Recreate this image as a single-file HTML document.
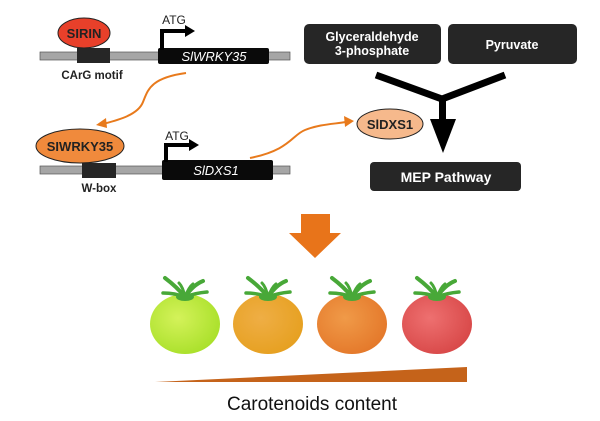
<!DOCTYPE html>
<html><head><meta charset="utf-8"><style>
html,body{margin:0;padding:0;background:#fff;width:600px;height:421px;overflow:hidden}
svg text{font-family:"Liberation Sans",Arial,sans-serif}
</style></head><body>
<svg width="600" height="421" viewBox="0 0 600 421" xmlns="http://www.w3.org/2000/svg">
<defs>
<radialGradient id="g1" cx="40%" cy="40%" r="65%"><stop offset="0" stop-color="#d4f25a"/><stop offset="1" stop-color="#a9e02a"/></radialGradient>
<radialGradient id="g2" cx="40%" cy="40%" r="65%"><stop offset="0" stop-color="#efae45"/><stop offset="1" stop-color="#e6a020"/></radialGradient>
<radialGradient id="g3" cx="40%" cy="40%" r="65%"><stop offset="0" stop-color="#f09a48"/><stop offset="1" stop-color="#e4782a"/></radialGradient>
<radialGradient id="g4" cx="40%" cy="40%" r="65%"><stop offset="0" stop-color="#ee7070"/><stop offset="1" stop-color="#d84848"/></radialGradient>
<g id="calyx" fill="none" stroke="#48a838" stroke-linecap="round">
<path d="M0 4 Q-8 -6 -20 -15" stroke-width="4"/>
<path d="M0 4 Q8 -8 18 -12" stroke-width="4"/>
<path d="M0 4 Q-10 0 -22 0" stroke-width="3.5"/>
<path d="M0 4 Q10 0 22 -1" stroke-width="3.5"/>
<path d="M0 4 Q-2 -6 -6 -10" stroke-width="3"/>
<path d="M0 4 Q4 -6 8 -9" stroke-width="3"/>
<ellipse cx="0" cy="4" rx="9" ry="4" fill="#48a838" stroke="none"/>
</g>
</defs>
<!-- top gene -->
<rect x="40" y="52" width="250" height="8" fill="#a6a6a6" stroke="#555" stroke-width="0.7"/>
<rect x="77" y="48" width="33" height="15" fill="#262626"/>
<ellipse cx="84" cy="33" rx="26" ry="15" fill="#e8402a" stroke="#222" stroke-width="1"/>
<text x="84" y="38" font-size="13" font-weight="bold" text-anchor="middle" fill="#222">SIRIN</text>
<text x="92" y="79" font-size="11.5" font-weight="bold" text-anchor="middle" fill="#222">CArG motif</text>
<rect x="158" y="48" width="111" height="16" rx="2" fill="#0a0a0a"/>
<text x="214" y="61" font-size="13" font-style="italic" text-anchor="middle" fill="#fff">SlWRKY35</text>
<path d="M162 50 V31 H186" fill="none" stroke="#000" stroke-width="4"/>
<path d="M185 25 L195 31 L185 37Z" fill="#000"/>
<text x="174" y="24" font-size="12" text-anchor="middle" fill="#222">ATG</text>
<!-- bottom gene -->
<rect x="40" y="166" width="250" height="8" fill="#a6a6a6" stroke="#555" stroke-width="0.7"/>
<rect x="82" y="163" width="34" height="15" fill="#262626"/>
<ellipse cx="80" cy="146" rx="44" ry="17" fill="#f08a3c" stroke="#222" stroke-width="1"/>
<text x="80" y="151" font-size="13" font-weight="bold" text-anchor="middle" fill="#222">SIWRKY35</text>
<text x="99" y="192" font-size="11.5" font-weight="bold" text-anchor="middle" fill="#222">W-box</text>
<rect x="162" y="160" width="111" height="20" rx="2" fill="#0a0a0a"/>
<text x="216" y="175" font-size="13" font-style="italic" text-anchor="middle" fill="#fff">SlDXS1</text>
<path d="M166 162 V145 H190" fill="none" stroke="#000" stroke-width="4"/>
<path d="M189 139 L199 145 L189 151Z" fill="#000"/>
<text x="177" y="140" font-size="12" text-anchor="middle" fill="#222">ATG</text>
<!-- orange curves -->
<path d="M186 73 C150 78 148 90 143 102 C138 115 118 120 103 124" fill="none" stroke="#e87a1c" stroke-width="2"/>
<path d="M96 125 L106 118 L107 128Z" fill="#e87a1c"/>
<path d="M250 158 C290 150 292 135 305 130 C320 124 335 124 346 122" fill="none" stroke="#e87a1c" stroke-width="2"/>
<path d="M354 121 L344 116 L345 127Z" fill="#e87a1c"/>
<!-- right -->
<rect x="304" y="24" width="137" height="40" rx="5" fill="#262626"/>
<text x="372" y="41" font-size="12.5" font-weight="bold" text-anchor="middle" fill="#fff">Glyceraldehyde</text>
<text x="372" y="55" font-size="12.5" font-weight="bold" text-anchor="middle" fill="#fff">3-phosphate</text>
<rect x="448" y="24" width="129" height="40" rx="5" fill="#262626"/>
<text x="512" y="49" font-size="12.5" font-weight="bold" text-anchor="middle" fill="#fff">Pyruvate</text>
<path d="M376 75 L442 99 L505 75" fill="none" stroke="#000" stroke-width="7"/>
<rect x="439" y="97" width="7" height="24" fill="#000"/>
<path d="M430 119 L456 119 L443 153Z" fill="#000"/>
<ellipse cx="390" cy="124" rx="33" ry="15" fill="#f6b98c" stroke="#222" stroke-width="1"/>
<text x="390" y="129" font-size="13" font-weight="bold" text-anchor="middle" fill="#222">SlDXS1</text>
<rect x="370" y="162" width="151" height="29" rx="4" fill="#262626"/>
<text x="446" y="182" font-size="14" font-weight="bold" text-anchor="middle" fill="#fff">MEP Pathway</text>
<!-- big arrow -->
<path d="M301 214 H330 V233 H341 L315 258 L289 233 H301Z" fill="#e8741a"/>
<!-- tomatoes -->
<ellipse cx="185" cy="324" rx="35" ry="30" fill="url(#g1)"/>
<ellipse cx="268" cy="324" rx="35" ry="30" fill="url(#g2)"/>
<ellipse cx="352" cy="324" rx="35" ry="30" fill="url(#g3)"/>
<ellipse cx="437" cy="324" rx="35" ry="30" fill="url(#g4)"/>
<use href="#calyx" x="185" y="293"/>
<use href="#calyx" x="268" y="293"/>
<use href="#calyx" x="352" y="293"/>
<use href="#calyx" x="437" y="293"/>
<!-- wedge -->
<path d="M155 382 L467 367 L467 382Z" fill="#c5631a"/>
<text x="312" y="410" font-size="19" text-anchor="middle" fill="#111">Carotenoids content</text>
</svg>
</body></html>
